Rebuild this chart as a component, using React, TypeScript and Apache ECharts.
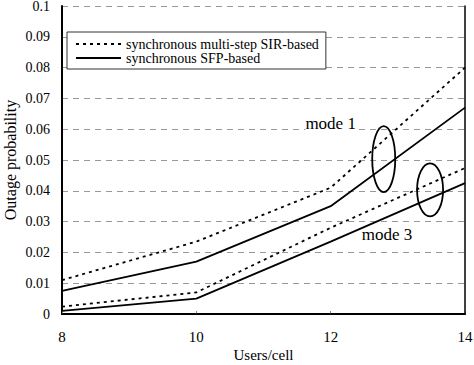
import React, { useEffect, useRef } from "react";
import * as echarts from "echarts";

const usersPerCell = [8, 10, 12, 14];
const mode1SIR = [0.011, 0.0235, 0.041, 0.08];
const mode1SFP = [0.0075, 0.017, 0.035, 0.067];
const mode3SIR = [0.0024, 0.007, 0.028, 0.0474];
const mode3SFP = [0.001, 0.005, 0.0235, 0.0425];
const seriesNames = ["synchronous multi-step SIR-based", "synchronous SFP-based"];
const yTicks = [0, 0.01, 0.02, 0.03, 0.04, 0.05, 0.06, 0.07, 0.08, 0.09, 0.1];

// annotation anchors in data coordinates
const annotations = [
  { label: "mode 1", lx: 12.0, ly: 0.0617, ex: 12.79, ey: 0.0503, rx: 11.5, ry: 33 },
  { label: "mode 3", lx: 12.84, ly: 0.0257, ex: 13.48, ey: 0.0403, rx: 13, ry: 26.5 },
];

const FONT = "Liberation Serif";

export default function App() {
  const ref = useRef<HTMLDivElement>(null);
  useEffect(() => {
    if (!ref.current) return;
    const chart = echarts.init(ref.current, undefined, { renderer: "svg" });
    const toPairs = (ys: number[]) => usersPerCell.map((x, i) => [x, ys[i]]);
    const dashed = { color: "#000", width: 1.8, type: [3, 4] as any };
    const solid = { color: "#000", width: 1.8, type: "solid" as any };
    chart.setOption({
      animation: false,
      textStyle: { fontFamily: FONT, color: "#000" },
      grid: { left: 62, right: 9, top: 6, bottom: 51, containLabel: false, outerBoundsMode: "none" },
      legend: {
        left: 67,
        top: 32,
        orient: "vertical",
        width: 262,
        padding: [5, 7, 4, 8],
        itemWidth: 45,
        itemHeight: 13,
        itemGap: 0,
        backgroundColor: "#fff",
        borderColor: "#333",
        borderWidth: 1,
        data: seriesNames,
        itemStyle: { color: "transparent", borderWidth: 0, opacity: 0 },
        textStyle: { fontFamily: FONT, fontSize: 14, color: "#000" },
      },
      xAxis: [
        {
          type: "value",
          min: 8,
          max: 14,
          interval: 2,
          name: "Users/cell",
          nameLocation: "middle",
          nameGap: 33,
          nameMoveOverlap: false,
          nameTextStyle: { fontFamily: FONT, fontSize: 15, color: "#000" },
          axisLine: { lineStyle: { color: "#000", width: 2 } },
          axisTick: { show: true, inside: true, length: 3, lineStyle: { color: "#888" } },
          axisLabel: { fontFamily: FONT, fontSize: 15, color: "#000", margin: 15 },
          splitLine: { show: false },
        },
        {
          type: "value",
          position: "top",
          min: 8,
          max: 14,
          z: 5,
          axisLine: { show: true, lineStyle: { color: "#000", width: 1.5 } },
          axisTick: { show: false },
          axisLabel: { show: false },
          splitLine: { show: false },
        },
      ],
      yAxis: [
        {
          type: "value",
          min: 0,
          max: 0.1,
          interval: 0.01,
          name: "Outage probability",
          nameLocation: "middle",
          nameGap: 44,
          nameMoveOverlap: false,
          nameTextStyle: { fontFamily: FONT, fontSize: 16, color: "#000" },
          axisLine: { show: true, lineStyle: { color: "#000", width: 2 } },
          axisTick: { show: false },
          axisLabel: {
            fontFamily: FONT,
            fontSize: 14,
            color: "#000",
            margin: 12,
            formatter: (v: number) => {
              const t = yTicks.find((k) => Math.abs(k - v) < 1e-9);
              return String(parseFloat((t ?? v).toFixed(2)));
            },
          },
          splitLine: { show: true, lineStyle: { color: "#999", width: 1, type: [6, 5] } },
        },
        {
          type: "value",
          position: "right",
          min: 0,
          max: 0.1,
          z: 5,
          axisLine: { show: true, lineStyle: { color: "#000", width: 1.5 } },
          axisTick: { show: false },
          axisLabel: { show: false },
          splitLine: { show: false },
        },
      ],
      series: [
        { name: seriesNames[0], type: "line", data: toPairs(mode1SIR), symbol: "none", lineStyle: dashed, itemStyle: { color: "#000" } },
        { name: seriesNames[1], type: "line", data: toPairs(mode1SFP), symbol: "none", lineStyle: solid, itemStyle: { color: "#000" } },
        { name: seriesNames[0], type: "line", data: toPairs(mode3SIR), symbol: "none", lineStyle: dashed, itemStyle: { color: "#000" } },
        { name: seriesNames[1], type: "line", data: toPairs(mode3SFP), symbol: "none", lineStyle: solid, itemStyle: { color: "#000" } },
      ],
    });
    const graphics: any[] = [];
    annotations.forEach((a) => {
      const [lx, ly] = chart.convertToPixel({ gridIndex: 0 }, [a.lx, a.ly]) as number[];
      const [ex, ey] = chart.convertToPixel({ gridIndex: 0 }, [a.ex, a.ey]) as number[];
      graphics.push({
        type: "ellipse",
        shape: { cx: ex, cy: ey, rx: a.rx, ry: a.ry },
        style: { fill: "none", stroke: "#000", lineWidth: 1.8 },
        z: 10,
      });
      graphics.push({
        type: "text",
        x: lx,
        y: ly,
        style: {
          text: a.label,
          fontFamily: FONT,
          fontSize: 17,
          fill: "#000",
          align: "center",
          verticalAlign: "middle",
          backgroundColor: a.label === "mode 1" ? "#fff" : "transparent",
        },
        z: 10,
      });
    });
    chart.setOption({ graphic: graphics });
    return () => chart.dispose();
  }, []);
  return <div ref={ref} style={{ width: 474, height: 365, position: "absolute", left: 0, top: 0 }} />;
}
